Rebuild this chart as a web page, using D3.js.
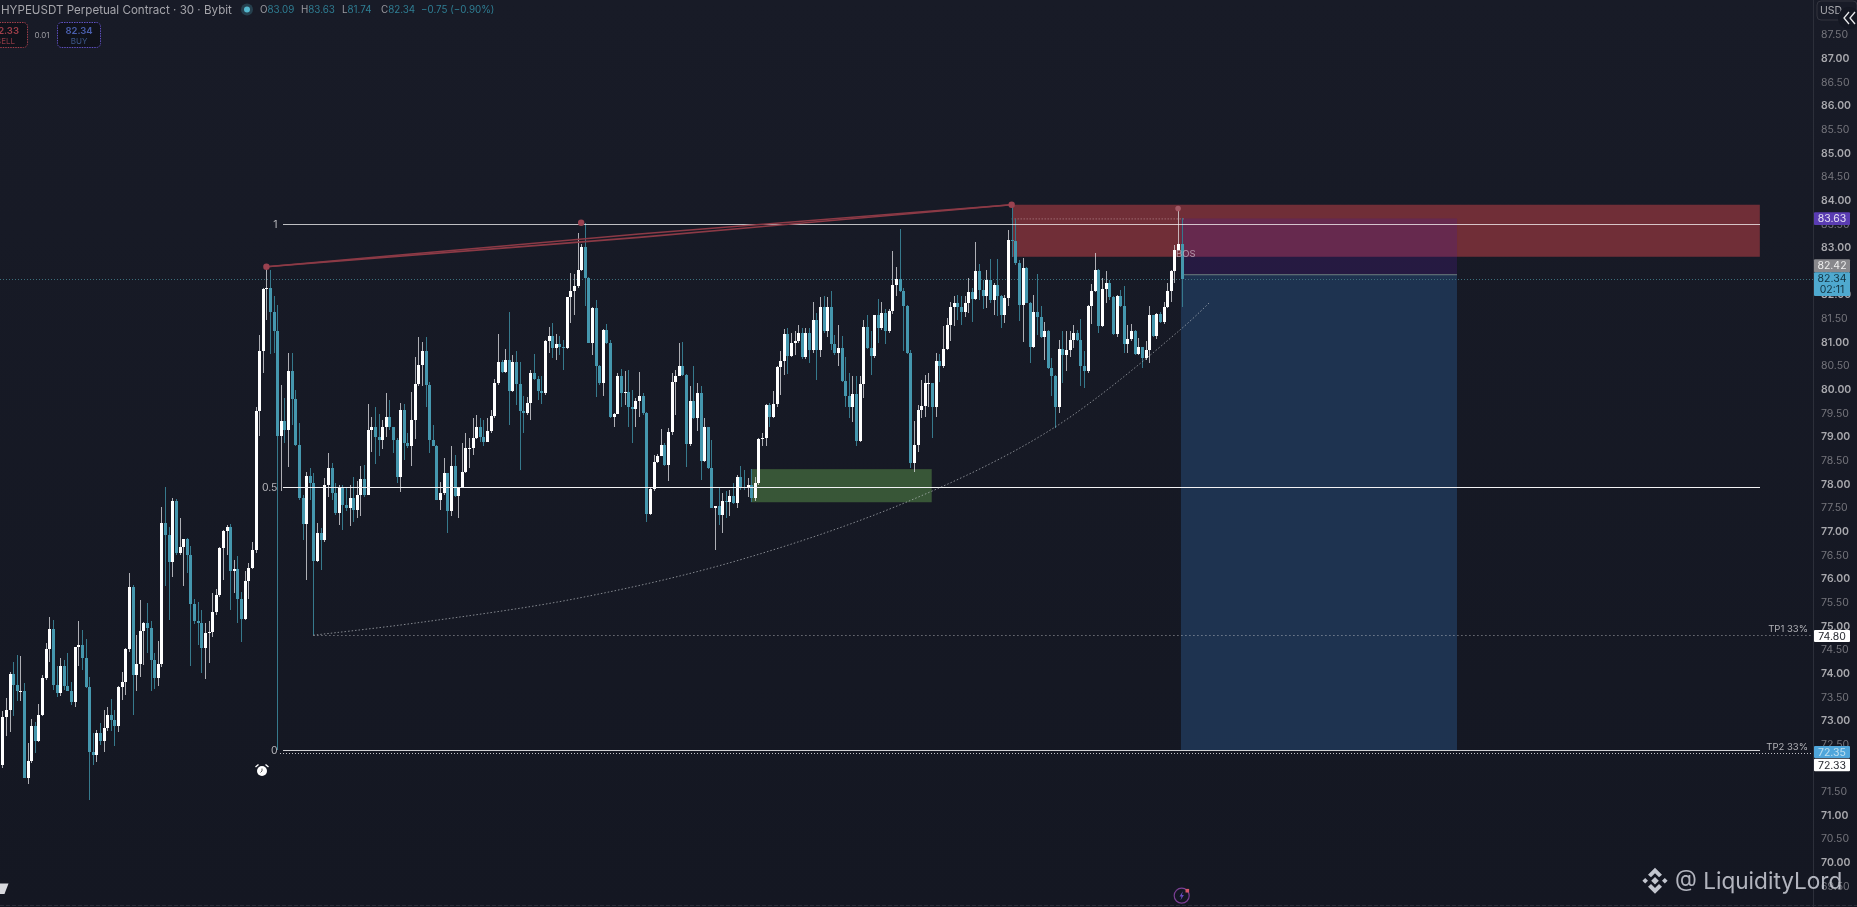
<!DOCTYPE html>
<html>
<head>
<meta charset="utf-8">
<title>HYPEUSDT 30</title>
<script src="https://cdn.jsdelivr.net/npm/d3@7"></script>
<style>
  html, body { margin: 0; padding: 0; background: #161923; overflow: hidden; }
  svg { display: block; font-family: Inter, "Noto Sans", sans-serif; filter: blur(0.35px); }
</style>
</head>
<body>
<svg id="chart" width="1857" height="907"></svg>
<script>
"use strict";

// candles. each open is the close before it
var firstOpen = 72.06;
var closes = [
  73.08,73.22,73.98,73.75,73.61,73.63,71.79,72.13,72.87,72.57,
  73.11,73.89,74.51,74.92,73.75,73.57,74.14,73.73,73.63,73.38,
  74.54,74.59,74.31,73.70,72.34,72.27,72.73,72.57,72.83,73.11,
  73.00,72.88,73.71,73.82,74.51,75.81,73.96,74.19,74.88,75.05,
  74.95,74.28,73.89,74.19,77.18,76.92,76.35,77.64,76.53,76.67,
  76.83,76.50,75.46,75.09,75.05,74.52,74.85,74.87,75.28,75.64,
  76.64,77.01,77.09,76.16,76.20,75.56,75.14,75.95,76.21,76.59,
  79.53,80.80,82.12,82.15,81.64,81.23,79.01,79.32,79.13,80.39,
  79.79,78.82,77.70,77.15,78.17,78.01,76.36,76.96,76.82,77.98,
  78.33,77.80,77.38,77.91,77.56,77.49,77.70,77.45,77.77,78.10,
  77.77,79.14,79.21,79.00,78.92,79.21,79.42,79.20,78.93,78.15,
  79.56,78.87,78.80,79.35,80.11,80.51,80.80,80.09,78.93,78.80,
  77.66,77.80,78.23,77.42,78.38,77.75,77.91,78.24,78.75,78.75,
  78.96,79.20,78.99,78.89,79.11,79.44,80.13,80.57,80.37,80.62,
  79.97,80.57,80.11,79.53,79.49,79.70,80.35,80.21,79.97,79.92,
  81.02,81.13,80.87,80.96,80.90,80.87,81.94,82.08,82.18,82.51,
  83.01,82.35,80.97,81.71,80.48,80.13,81.25,80.97,79.41,79.48,
  80.28,79.93,79.95,79.62,79.58,79.75,79.85,79.49,77.37,77.89,
  78.47,78.59,78.82,78.40,79.09,80.16,80.28,80.50,80.29,78.84,
  79.75,79.39,79.92,78.49,79.20,78.33,77.49,77.54,77.35,77.63,
  77.61,77.75,77.59,78.14,77.94,77.91,77.98,77.70,78.01,78.94,
  78.96,79.67,79.42,79.69,80.46,80.59,81.16,80.70,80.97,81.01,
  81.18,80.68,81.18,80.83,81.46,80.83,81.73,81.22,81.73,80.96,
  80.76,80.87,80.18,79.85,79.63,79.90,78.91,80.11,81.31,80.87,
  80.70,81.57,81.29,81.61,81.22,81.66,82.20,82.33,82.08,81.75,
  80.76,78.44,78.82,79.56,79.65,80.13,80.14,79.63,80.59,80.50,
  80.85,81.36,81.73,81.83,81.73,81.64,81.82,82.06,81.90,82.49,
  82.10,81.96,82.31,81.89,82.20,81.96,81.57,81.92,83.15,83.14,
  82.66,81.78,82.56,81.82,80.90,81.64,81.52,81.10,81.24,80.44,
  80.28,79.63,80.85,80.73,80.83,81.03,81.18,81.03,80.48,80.39,
  81.76,82.08,82.52,81.34,82.11,82.25,81.94,81.17,81.98,81.75,
  80.96,81.06,81.23,80.75,80.89,80.65,80.83,81.56,81.13,81.59,
  81.42,81.73,82.08,82.49,82.94,83.08,82.34
];
var highs = [
  73.19,73.47,74.03,74.24,74.38,74.35,73.78,72.52,73.03,72.97,
  73.35,73.96,74.63,75.18,75.12,74.14,74.31,74.28,74.42,73.82,
  74.56,75.10,74.91,74.71,73.91,72.73,72.80,72.95,73.22,73.28,
  73.45,73.22,73.73,74.03,74.52,76.11,75.86,74.81,75.55,75.07,
  75.49,75.09,74.42,74.68,77.50,77.93,77.09,77.69,77.67,77.27,
  76.83,76.85,76.69,75.56,75.51,75.33,75.05,75.09,75.69,75.77,
  76.67,77.02,77.13,77.16,76.39,76.47,75.72,76.16,76.32,76.78,
  79.63,81.15,82.15,82.59,82.52,81.96,81.78,80.09,79.81,80.76,
  80.77,79.99,79.28,77.77,78.26,78.33,78.23,77.17,77.06,78.12,
  78.65,78.44,78.01,77.98,77.98,77.94,77.98,78.15,78.05,78.37,
  78.40,79.69,79.42,79.62,79.48,79.35,79.93,79.77,79.21,78.96,
  79.70,79.69,79.07,79.95,80.69,81.10,80.99,81.10,80.16,79.25,
  78.82,78.03,78.54,78.23,78.80,78.61,77.91,78.86,79.07,78.96,
  79.39,79.46,79.39,79.35,79.39,79.55,80.21,81.16,80.62,80.85,
  81.64,80.73,80.80,80.58,79.85,79.83,80.41,80.75,80.27,80.27,
  81.03,81.32,81.41,81.17,81.13,81.03,81.94,82.45,82.44,83.30,
  83.08,83.52,82.37,81.73,81.89,80.51,81.27,81.38,81.04,79.49,
  80.34,80.42,80.39,80.41,79.99,79.82,80.37,79.92,79.51,77.94,
  78.61,78.63,79.15,78.86,79.19,80.34,80.41,80.97,80.99,80.32,
  80.06,80.48,80.13,80.06,79.39,79.21,78.93,77.54,77.93,77.80,
  77.84,77.87,78.01,78.19,78.38,78.30,78.12,78.31,78.14,78.96,
  79.07,79.69,79.70,79.97,80.48,80.80,81.27,81.29,81.18,81.22,
  81.36,81.29,81.29,81.29,81.85,81.61,81.94,81.96,81.94,82.08,
  81.15,81.36,81.13,80.68,80.34,80.27,80.27,80.28,81.46,81.57,
  81.22,81.57,81.90,81.85,81.69,81.69,82.92,82.58,83.39,82.15,
  81.77,80.82,79.32,79.67,80.20,80.30,80.35,80.06,80.76,80.75,
  81.34,81.50,81.85,81.96,81.99,81.97,81.96,82.35,82.15,83.12,
  82.65,82.31,82.51,82.75,82.24,82.75,81.99,81.99,83.37,83.89,
  83.59,82.73,82.77,82.59,81.85,81.99,82.44,81.75,81.43,81.25,
  80.65,80.30,81.04,81.22,81.22,81.22,81.36,81.25,81.48,80.80,
  81.78,82.23,82.87,82.54,82.35,82.49,82.31,81.97,81.99,82.10,
  82.18,81.36,81.38,81.25,81.08,80.90,81.01,81.75,81.57,81.61,
  81.64,81.85,82.24,82.52,83.05,83.82,83.63
];
var lows = [
  71.99,72.66,72.76,73.09,73.40,73.40,71.78,71.66,72.09,72.31,
  72.55,73.10,73.85,74.24,73.64,73.49,73.52,73.64,73.61,73.33,
  73.28,74.14,74.07,73.68,71.32,72.06,72.11,72.48,72.32,72.78,
  72.78,72.45,72.76,73.42,73.54,74.45,73.11,73.61,73.92,74.16,
  74.42,73.61,73.66,73.73,74.12,75.83,75.11,76.04,76.50,76.50,
  75.83,76.11,74.15,75.04,74.59,74.01,73.87,74.22,74.76,75.23,
  75.60,75.97,76.50,75.33,75.70,75.05,74.65,75.12,75.57,76.19,
  76.54,79.01,80.35,81.46,80.75,80.77,72.38,77.84,78.86,78.35,
  79.25,78.79,77.66,76.82,75.97,77.66,74.81,76.34,76.17,76.78,
  77.73,77.66,77.35,77.13,77.03,77.42,77.10,77.20,77.27,77.31,
  77.73,77.77,78.68,78.42,78.58,78.73,79.00,79.14,78.65,78.01,
  77.82,78.51,78.75,78.37,78.94,80.06,80.06,79.63,78.65,78.79,
  77.66,77.45,77.77,76.97,77.31,77.73,77.27,77.91,78.23,78.33,
  78.61,78.94,78.89,78.79,78.89,79.07,79.39,80.09,80.35,80.35,
  79.25,79.95,79.67,78.30,79.07,79.46,79.35,80.20,79.77,79.69,
  79.88,80.76,80.65,80.62,80.73,80.41,80.85,81.39,81.57,82.15,
  82.49,81.75,80.97,80.73,79.83,80.09,79.85,80.96,79.39,79.21,
  79.48,79.63,79.67,79.21,78.87,79.21,79.42,79.46,77.20,77.35,
  77.84,78.44,78.58,78.38,78.06,79.04,79.46,80.27,80.27,78.35,
  78.80,79.37,79.11,78.08,78.47,78.31,77.49,76.61,77.13,76.96,
  77.27,77.31,77.58,77.49,77.87,77.87,77.73,77.61,77.63,77.98,
  78.79,78.80,79.21,79.39,79.63,79.88,80.30,80.32,80.69,80.73,
  80.97,80.63,80.63,80.56,80.76,80.20,80.69,81.18,81.11,80.83,
  80.73,80.48,80.16,79.63,79.39,79.30,78.80,78.89,79.81,80.85,
  80.30,80.65,80.97,81.25,80.96,81.18,81.59,81.96,82.06,80.80,
  80.75,78.33,78.26,78.68,79.39,79.42,79.62,78.96,79.42,80.16,
  80.44,80.83,81.01,81.34,81.46,81.36,81.52,81.61,81.43,81.89,
  81.89,81.69,81.71,81.82,81.57,81.54,81.29,81.39,81.75,82.80,
  82.63,81.45,80.99,81.82,80.55,80.87,81.15,81.08,80.62,80.42,
  79.85,79.18,79.49,80.13,80.39,80.69,80.87,81.01,80.06,80.02,
  80.35,81.38,82.06,81.18,81.31,81.82,81.89,81.15,81.11,81.73,
  80.76,80.76,81.01,80.73,80.73,80.44,80.62,80.56,81.11,81.06,
  81.39,81.38,81.71,81.85,82.24,82.94,81.74
];

// price axis
var axisTicks = [69.5,70,70.5,71,71.5,72,72.5,73,73.5,74,74.5,75,75.5,76,76.5,77,77.5,78,78.5,79,79.5,80,80.5,81,81.5,82,82.5,83,83.5,84,84.5,85,85.5,86,86.5,87,87.5];

// drawings, bar index and price
var trendIndex = [73, 176, 279];
var trendUpper = [82.59, 83.28, 83.90];
var trendLower = [82.59, 83.21, 83.90];
var pivotIndex = [73, 160, 279];
var pivotPrice = [82.59, 83.52, 83.90];
var fibLevels = [1, 0.5, 0];
var fibPrice = [83.5, 77.93, 72.37];
var arcIndex = [86, 114.6, 159.7, 204.7, 252, 291, 325.5, 333.8];
var arcPrice = [74.80, 75.06, 75.59, 76.41, 77.68, 79.20, 81.25, 81.84];
var redZone = {i0: 279.1, i1: 485.8, top: 83.90, bottom: 82.80};
var greenZone = {i0: 206.9, i1: 256.9, top: 78.31, bottom: 77.61};
var entryPrice = 82.42, stopPrice = 83.61, targetPrice = 72.37;
var boxIndex = [325.8, 402.1];
var tp1Price = 74.80, tp2Price = 72.31, lastPrice = 82.34;

var x = d3.scaleLinear().domain([0, closes.length - 1]).range([2.3, 1181.7]);
var y = d3.scaleLinear().domain([70, 84]).range([862.2, 200]);

var svg = d3.select("#chart");

var grad = svg.append("defs").append("linearGradient")
    .attr("id", "bg").attr("x1", 0).attr("x2", 0).attr("y1", 0).attr("y2", 1);
grad.append("stop").attr("offset", "0%").attr("stop-color", "#181b27");
grad.append("stop").attr("offset", "100%").attr("stop-color", "#141722");
svg.append("rect").attr("width", 1857).attr("height", 907).attr("fill", "url(#bg)");

function zone(d, color) {
    svg.append("rect")
       .attr("x", x(d.i0)).attr("width", x(d.i1) - x(d.i0))
       .attr("y", y(d.top)).attr("height", y(d.bottom) - y(d.top))
       .attr("fill", color);
}
zone(redZone, "#702e37");
zone(greenZone, "#385637");

// short position box
svg.append("rect")
   .attr("x", x(boxIndex[0])).attr("width", x(boxIndex[1]) - x(boxIndex[0]))
   .attr("y", y(stopPrice)).attr("height", y(entryPrice) - y(stopPrice))
   .attr("fill", "rgb(78,30,140)").attr("fill-opacity", 0.28);
svg.append("rect")
   .attr("x", x(boxIndex[0])).attr("width", x(boxIndex[1]) - x(boxIndex[0]))
   .attr("y", y(entryPrice)).attr("height", y(targetPrice) - y(entryPrice))
   .attr("fill", "#1e3350");
svg.append("line")
   .attr("x1", x(boxIndex[0])).attr("x2", x(boxIndex[1]))
   .attr("y1", y(entryPrice)).attr("y2", y(entryPrice))
   .attr("stroke", "#6d7f80").attr("stroke-width", 1);

// dotted price lines
function dotted(x1, price, color, dash) {
    svg.append("line")
       .attr("x1", x1).attr("x2", 1813)
       .attr("y1", Math.round(y(price)) + 0.5).attr("y2", Math.round(y(price)) + 0.5)
       .attr("stroke", color).attr("stroke-width", 1).attr("stroke-dasharray", dash);
}
dotted(0, lastPrice, "#3d6f7c", "1 2");
dotted(x(arcIndex[0]), tp1Price, "rgba(215,215,220,0.7)", "1 3");
dotted(280, tp2Price, "rgba(235,235,240,0.8)", "1 2");
svg.append("line")
   .attr("x1", x(279)).attr("x2", 1185)
   .attr("y1", y(83.6)).attr("y2", y(83.6))
   .attr("stroke", "rgba(235,210,215,0.55)").attr("stroke-dasharray", "1 2");

// candles
var candles = d3.range(closes.length).map(function(i) {
    return {i: i, o: i == 0 ? firstOpen : closes[i - 1], c: closes[i], h: highs[i], l: lows[i]};
});
var bars = svg.append("g").selectAll("g").data(candles).enter().append("g")
    .attr("shape-rendering", "crispEdges");
bars.append("line")
    .attr("x1", function(d) { return Math.round(x(d.i)) + 0.5; })
    .attr("x2", function(d) { return Math.round(x(d.i)) + 0.5; })
    .attr("y1", function(d) { return y(d.h); })
    .attr("y2", function(d) { return y(d.l); })
    .attr("stroke", function(d) { return d.c >= d.o ? "rgba(225,225,230,0.75)" : "#36798c"; });
bars.append("rect")
    .attr("x", function(d) { return Math.round(x(d.i)) - 1; })
    .attr("width", 3)
    .attr("y", function(d) { return y(Math.max(d.o, d.c)); })
    .attr("height", function(d) { return Math.max(1, Math.abs(y(d.o) - y(d.c))); })
    .attr("fill", function(d) { return d.c >= d.o ? "#ffffff" : "#4597ae"; });

// fib levels
var fibColors = ["rgba(255,255,255,0.72)", "#f2f2f4", "rgba(255,255,255,0.8)"];
fibLevels.forEach(function(level, k) {
    var py = Math.round(y(fibPrice[k])) + 0.5;
    svg.append("line").attr("x1", 283).attr("x2", 1760).attr("y1", py).attr("y2", py)
       .attr("stroke", fibColors[k]).attr("stroke-width", 1);
    svg.append("text").attr("x", 277.5).attr("y", py + 3.5).attr("text-anchor", "end")
       .attr("font-size", 10.5).attr("fill", "#b5b5ba").text(level);
});

// rising arc
svg.append("path")
   .attr("d", d3.line().curve(d3.curveCatmullRom)
        .x(function(d) { return x(d[0]); })
        .y(function(d) { return y(d[1]); })(d3.zip(arcIndex, arcPrice)))
   .attr("fill", "none").attr("stroke", "rgba(190,195,200,0.65)").attr("stroke-dasharray", "1.5 2");

// highs trendline, two strokes bowed a little apart
var trendLine = d3.line().curve(d3.curveLinear)
    .x(function(d) { return x(d[0]); })
    .y(function(d) { return y(d[1]); });
[trendUpper, trendLower].forEach(function(prices) {
    svg.append("path").attr("d", trendLine(d3.zip(trendIndex, prices)))
       .attr("fill", "none").attr("stroke", "#8c3a46").attr("stroke-width", 1.6);
});
svg.selectAll(".pivot").data(d3.zip(pivotIndex, pivotPrice)).enter().append("circle")
   .attr("cx", function(d) { return x(d[0]); })
   .attr("cy", function(d) { return y(d[1]); })
   .attr("r", 3.2).attr("fill", "#9a4250");
svg.append("circle").attr("cx", x(325)).attr("cy", y(83.82)).attr("r", 2.8).attr("fill", "#a35a66");

svg.append("text").attr("x", 1176).attr("y", 257).attr("font-size", 9.5)
   .attr("fill", "rgba(205,185,200,0.75)").text("BOS");

// price axis
svg.append("line").attr("x1", 1813.5).attr("x2", 1813.5).attr("y1", 0).attr("y2", 907)
   .attr("stroke", "#2c2f3a");
var axis = svg.append("g").attr("transform", "translate(1813,0)")
   .call(d3.axisRight(y).tickValues(axisTicks).tickFormat(d3.format(".2f")).tickSize(0).tickPadding(8));
axis.select(".domain").remove();
axis.selectAll("text")
    .attr("font-family", "Inter")
    .attr("font-size", 10.5)
    .attr("font-weight", function(d) { return d % 1 == 0 ? 600 : 400; })
    .attr("fill", function(d) { return d % 1 == 0 ? "#a9a9ae" : "#75757c"; });

// price tags on the axis
function tag(y0, y1, fill, color, lines) {
    svg.append("rect").attr("x", 1814).attr("width", 36).attr("y", y0).attr("height", y1 - y0)
       .attr("rx", 1).attr("fill", fill);
    lines.forEach(function(t, k) {
        svg.append("text").attr("x", 1832).attr("text-anchor", "middle")
           .attr("y", y0 + 10 + k * 11).attr("font-size", 10.5).attr("fill", color).text(t);
    });
}
tag(212.3, 225, "#5a3cb2", "#e4e0f2", ["83.63"]);
tag(259.3, 272.3, "#88888c", "#eeeeee", ["82.42"]);
tag(272.3, 296, "#4fa9cf", "#123240", ["82.34", "02:11"]);
tag(630, 642, "#ffffff", "#26282f", ["74.80"]);
tag(746, 758, "#4fa6db", "#bfe0f0", ["72.35"]);
tag(758.7, 771.3, "#ffffff", "#26282f", ["72.33"]);

svg.append("text").attr("x", 1808).attr("y", 632).attr("text-anchor", "end")
   .attr("font-size", 9.5).attr("fill", "#b3b3b8").text("TP1 33%");
svg.append("text").attr("x", 1808).attr("y", 749.5).attr("text-anchor", "end")
   .attr("font-size", 9.5).attr("fill", "#b3b3b8").text("TP2 33%");

// legend
svg.append("text").attr("x", 1).attr("y", 14).attr("font-size", 11.6).attr("fill", "#a5a5ab")
   .text("HYPEUSDT Perpetual Contract · 30 · Bybit");
svg.append("circle").attr("cx", 247).attr("cy", 9.5).attr("r", 6).attr("fill", "#26404e");
svg.append("circle").attr("cx", 247).attr("cy", 9.5).attr("r", 3).attr("fill", "#55b8cf");

var ohlcNames = ["O", "H", "L", "C"];
var ohlcValues = ["83.09", "83.63", "81.74", "82.34"];
var ohlcX = [260, 301, 342, 381];
ohlcNames.forEach(function(n, k) {
    var t = svg.append("text").attr("x", ohlcX[k]).attr("y", 13).attr("font-size", 9.8).attr("fill", "#9a9aa0");
    t.append("tspan").text(n);
    t.append("tspan").attr("fill", "#2f7e93").text(ohlcValues[k]);
});
svg.append("text").attr("x", 421).attr("y", 13).attr("font-size", 9.8).attr("fill", "#2f7e93")
   .text("−0.75 (−0.90%)");

svg.append("rect").attr("x", -12).attr("y", 22.5).attr("width", 39.5).attr("height", 25).attr("rx", 4)
   .attr("fill", "#10121b").attr("stroke", "#a03f4a").attr("stroke-dasharray", "1.5 1");
svg.append("text").attr("x", 5.5).attr("y", 33.5).attr("text-anchor", "middle").attr("font-size", 9.5)
   .attr("font-weight", 600).attr("fill", "#a03f4a").text("82.33");
svg.append("text").attr("x", 5.5).attr("y", 44).attr("text-anchor", "middle").attr("font-size", 8)
   .attr("fill", "#8e3a45").text("SELL");
svg.append("text").attr("x", 42).attr("y", 38).attr("text-anchor", "middle").attr("font-size", 8)
   .attr("fill", "#9c9ca2").text("0.01");
svg.append("rect").attr("x", 57.5).attr("y", 22.5).attr("width", 43).attr("height", 25).attr("rx", 4)
   .attr("fill", "#10121b").attr("stroke", "#5f50c0").attr("stroke-dasharray", "1.5 1");
svg.append("text").attr("x", 79).attr("y", 33.5).attr("text-anchor", "middle").attr("font-size", 9.5)
   .attr("font-weight", 600).attr("fill", "#4a5fae").text("82.34");
svg.append("text").attr("x", 79).attr("y", 44).attr("text-anchor", "middle").attr("font-size", 8)
   .attr("fill", "#3f5a8e").text("BUY");

// top right currency button and collapse arrows
svg.append("rect").attr("x", 1817).attr("y", 1).attr("width", 40).attr("height", 19).attr("rx", 4)
   .attr("fill", "none").attr("stroke", "#33353f");
svg.append("text").attr("x", 1820).attr("y", 14).attr("font-size", 10.5).attr("fill", "#a9a9ae").text("USD");
svg.append("circle").attr("cx", 1849).attr("cy", 18).attr("r", 11).attr("fill", "#141722");
svg.append("path").attr("d", "M1849 12 L1844 18 L1849 24 M1855 12 L1850 18 L1855 24")
   .attr("fill", "none").attr("stroke", "#e8e8ea").attr("stroke-width", 1.3);

// alarm clock
var alarm = svg.append("g").attr("transform", "translate(262,771)");
alarm.append("circle").attr("r", 5).attr("fill", "#ffffff");
alarm.append("path").attr("d", "M-6.5 -4 L-3.5 -6.5 M6.5 -4 L3.5 -6.5").attr("stroke", "#ffffff").attr("stroke-width", 1.3);
alarm.append("path").attr("d", "M0 0 L-1.5 1.5 M0 0 L0 -2.5").attr("stroke", "#333").attr("stroke-width", 0.8);

// bolt badge
var bolt = svg.append("g").attr("transform", "translate(1181.7,895.7)");
bolt.append("circle").attr("r", 7.5).attr("fill", "none").attr("stroke", "#7b3f93").attr("stroke-width", 1.2);
bolt.append("path").attr("d", "M1.2 -4.5 L-2.2 0.8 L-0.2 0.8 L-1.2 4.5 L2.2 -0.8 L0.2 -0.8 Z").attr("fill", "#6b4bc0");
bolt.append("rect").attr("x", 3.8).attr("y", -6.8).attr("width", 3.6).attr("height", 3.6).attr("fill", "#d8566a");

// tradingview corner mark, cut off at the edge
svg.append("path").attr("d", "M0 883.5 L8.5 883.5 L4.5 894 L0 894 Z").attr("fill", "#d8d9de");

// bottom border
svg.append("line").attr("x1", 0).attr("x2", 1857).attr("y1", 905.5).attr("y2", 905.5)
   .attr("stroke", "#2a2d38").attr("stroke-dasharray", "4 2");

// watermark
var logo = svg.append("g").attr("transform", "translate(1655,880.7)").attr("fill", "#c3c6cf");
logo.append("path").attr("d", "M0 -3.8 L3.8 0 L0 3.8 L-3.8 0 Z");
logo.append("path").attr("d", "M-9.8 -2.8 L-7 0 L-9.8 2.8 L-12.6 0 Z M9.8 -2.8 L12.6 0 L9.8 2.8 L7 0 Z");
logo.append("path").attr("d", "M0 -13 L7 -6 L4 -3.4 L0 -7.4 L-4 -3.4 L-7 -6 Z");
logo.append("path").attr("d", "M0 13 L7 6 L4 3.4 L0 7.4 L-4 3.4 L-7 6 Z");
svg.append("text").attr("x", 1675).attr("y", 889).attr("font-size", 22.6)
   .attr("font-family", "Inter").attr("fill", "rgba(200,203,212,0.88)").text("@ LiquidityLord");
</script>
</body>
</html>
